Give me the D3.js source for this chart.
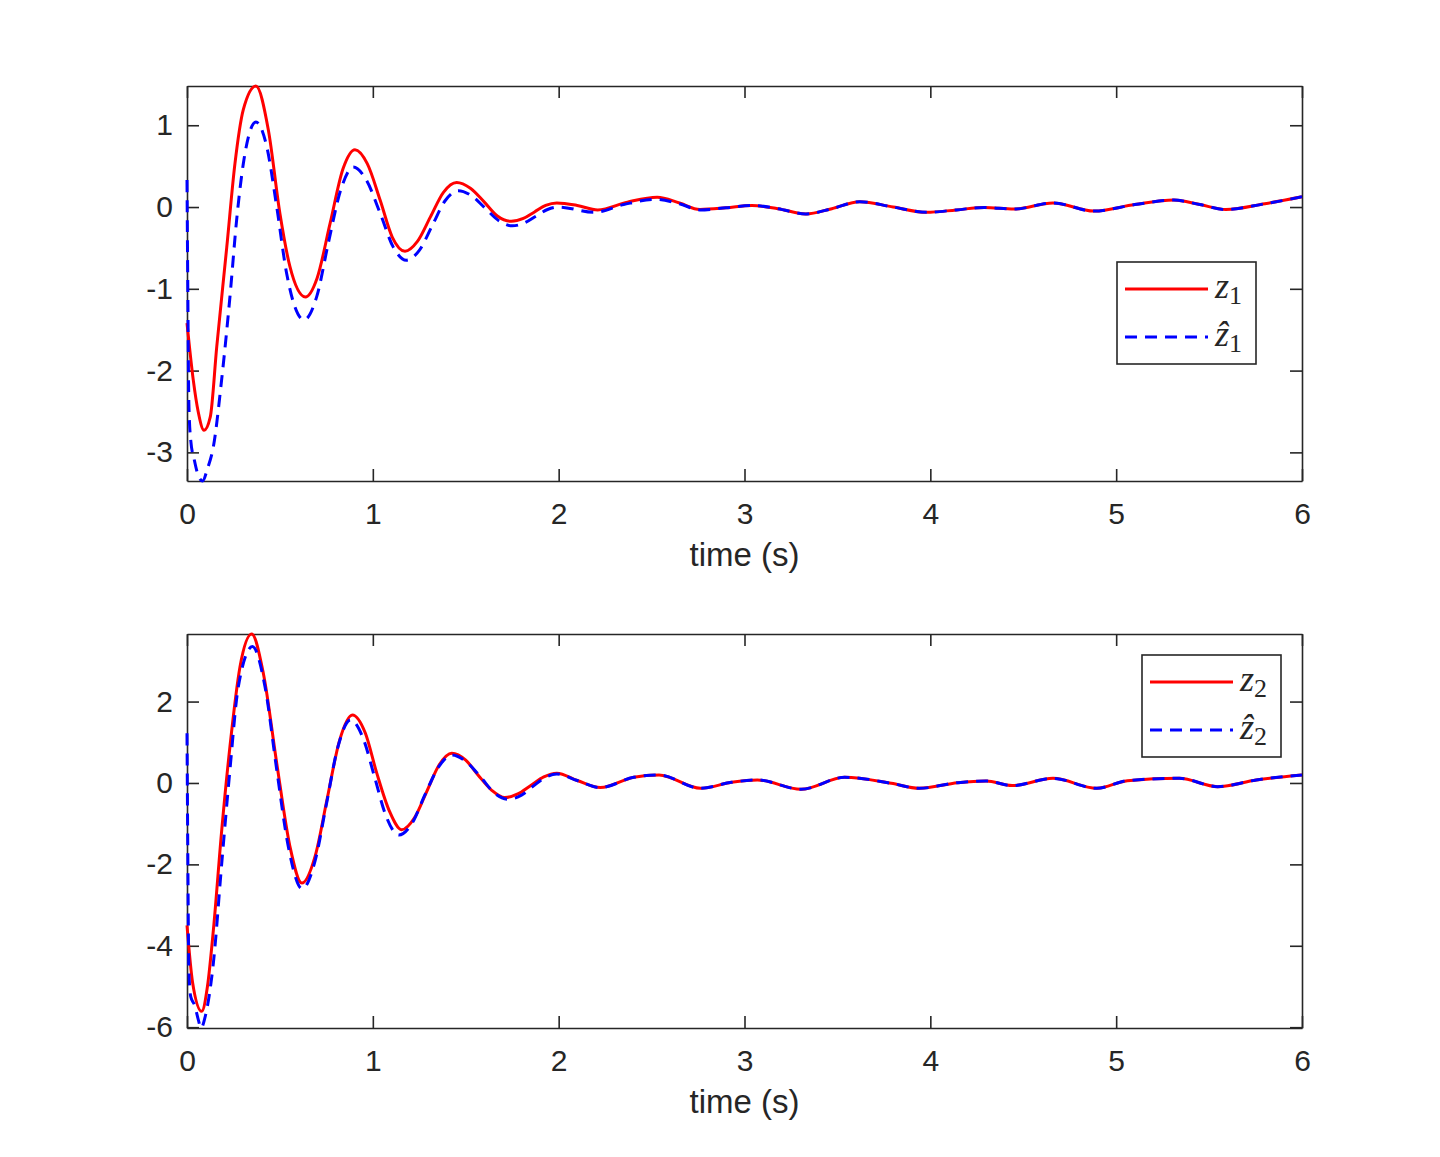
<!DOCTYPE html>
<html>
<head>
<meta charset="utf-8">
<script src="https://cdn.jsdelivr.net/npm/d3@7/dist/d3.min.js"></script>
<style>
body { margin: 0; background: #fff; }
svg text { font-family: "Liberation Sans", Arial, sans-serif; fill: #262626; }
</style>
</head>
<body>
<div id="chart"></div>
<script>
// values (time in s)
const t1 = [0, 0.034, 0.06, 0.092, 0.125, 0.16, 0.214, 0.258, 0.303, 0.371, 0.438, 0.5, 0.554, 0.637,
    0.70, 0.77, 0.84, 0.904, 0.97, 1.04, 1.105, 1.173, 1.24, 1.31, 1.38, 1.451, 1.525, 1.60, 1.67, 1.745,
    1.81, 1.87, 1.93, 1.99, 2.1, 2.21, 2.37, 2.53, 2.65, 2.76, 2.9, 3.04, 3.18, 3.33, 3.47, 3.62, 3.8, 3.98,
    4.14, 4.29, 4.45, 4.66, 4.88, 5.1, 5.31, 5.45, 5.59, 5.8, 6.0];
const z1 = [-1.42, -2.12, -2.5, -2.73, -2.57, -1.71, -0.49, 0.53, 1.19, 1.48, 0.94, -0.08, -0.73, -1.10,
    -0.87, -0.2, 0.47, 0.70, 0.53, 0.08, -0.37, -0.54, -0.42, -0.12, 0.18, 0.30, 0.23, 0.06, -0.11, -0.175,
    -0.14, -0.06, 0.02, 0.05, 0.02, -0.035, 0.06, 0.12, 0.05, -0.03, -0.01, 0.02, -0.02, -0.085, -0.02, 0.065, 0.0, -0.065,
    -0.035, -0.005, -0.025, 0.05, -0.05, 0.03, 0.085, 0.03, -0.03, 0.04, 0.125];

const t1hat = [0, 0.004, 0.01, 0.02, 0.04, 0.06, 0.084, 0.11, 0.142, 0.186, 0.231, 0.267, 0.303, 0.371, 0.429,
    0.483, 0.536, 0.63, 0.70, 0.76, 0.83, 0.895, 0.965, 1.04, 1.11, 1.18, 1.25, 1.32, 1.39, 1.46, 1.53, 1.605,
    1.68, 1.75, 1.81, 1.875, 1.94, 2.0, 2.19, 2.35, 2.52, 2.65, 2.76, 2.9, 3.04, 3.18, 3.33, 3.47, 3.62, 3.8, 3.98,
    4.14, 4.29, 4.45, 4.66, 4.88, 5.1, 5.31, 5.45, 5.59, 5.8, 6.0];
const z1hat = [0.33, -0.9, -2.4, -2.85, -3.1, -3.28, -3.35, -3.2, -2.93, -2.12, -1.10, -0.16, 0.53, 1.04, 0.74,
    0.0, -0.81, -1.38, -1.08, -0.445, 0.23, 0.49, 0.33, -0.08, -0.49, -0.65, -0.53, -0.225, 0.08, 0.20, 0.14, -0.015,
    -0.17, -0.23, -0.2, -0.115, -0.03, 0.0, -0.065, 0.03, 0.095, 0.04, -0.035, -0.01, 0.02, -0.02, -0.085, -0.02, 0.065, 0.0, -0.065,
    -0.035, -0.005, -0.025, 0.05, -0.05, 0.03, 0.085, 0.03, -0.03, 0.04, 0.125];

const t2 = [0, 0.03, 0.079, 0.11, 0.142, 0.187, 0.231, 0.285, 0.348, 0.411, 0.483, 0.554, 0.618,
    0.69, 0.754, 0.82, 0.89, 0.96, 1.02, 1.09, 1.155, 1.225, 1.29, 1.355, 1.425, 1.5, 1.567, 1.64, 1.71,
    1.78, 1.85, 1.92, 1.99, 2.1, 2.224, 2.404, 2.54, 2.764, 2.93, 3.069, 3.304, 3.539, 3.79, 3.94, 4.148,
    4.3, 4.44, 4.66, 4.896, 5.06, 5.34, 5.546, 5.754, 6.0];
const z2 = [-3.5, -4.9, -5.61, -5.0, -3.61, -1.15, 0.89, 2.85, 3.66, 2.69, 0.48, -1.56, -2.46,
    -1.79, -0.395, 1.03, 1.67, 1.22, 0.26, -0.7, -1.15, -0.85, -0.21, 0.43, 0.73, 0.56, 0.19, -0.18, -0.36,
    -0.27, -0.06, 0.15, 0.24, 0.06, -0.114, 0.14, 0.196, -0.131, 0.016, 0.074, -0.155, 0.14, -0.008, -0.131, 0.008,
    0.049, -0.065, 0.114, -0.131, 0.057, 0.114, -0.09, 0.074, 0.196];

const t2hat = [0, 0.004, 0.01, 0.02, 0.04, 0.06, 0.075, 0.1, 0.142, 0.187, 0.231, 0.276, 0.352, 0.42, 0.483,
    0.545, 0.62, 0.69, 0.75, 0.81, 0.88, 0.95, 1.01, 1.07, 1.14, 1.21, 1.28, 1.355, 1.425, 1.5, 1.58, 1.655,
    1.73, 1.8, 1.86, 1.925, 1.99, 2.1, 2.224, 2.404, 2.54, 2.764, 2.93, 3.069, 3.304, 3.539, 3.79, 3.94, 4.148,
    4.3, 4.44, 4.66, 4.896, 5.06, 5.34, 5.546, 5.754, 6.0];
const z2hat = [1.22, -1.5, -4.6, -5.25, -5.45, -5.8, -6.02, -5.7, -4.42, -1.97, 0.32, 2.36, 3.35, 2.36, 0.32,
    -1.56, -2.6, -1.9, -0.525, 0.85, 1.55, 1.07, 0.135, -0.8, -1.28, -1.0, -0.295, 0.4, 0.69, 0.53, 0.145, -0.25,
    -0.40, -0.3, -0.09, 0.13, 0.22, 0.06, -0.114, 0.14, 0.196, -0.131, 0.016, 0.074, -0.155, 0.14, -0.008, -0.131, 0.008,
    0.049, -0.065, 0.114, -0.131, 0.057, 0.114, -0.09, 0.074, 0.196];

const xTicks = [0, 1, 2, 3, 4, 5, 6];
const yTicks1 = [-3, -2, -1, 0, 1];
const yTicks2 = [-6, -4, -2, 0, 2];
const xLabel = "time (s)";

const W = 1440, H = 1157;
const AXIS = "#262626";

let svg = d3.select("#chart")
    .append("svg")
    .attr("width", W)
    .attr("height", H);

let panels = [
    {id: "p1", top: 86, bottom: 481, yDomain: [-3.35, 1.48], yTicks: yTicks1,
     t: t1, z: z1, th: t1hat, zh: z1hat, sub: "1",
     legend: {x: 1117, y: 262, w: 139, h: 102}},
    {id: "p2", top: 634, bottom: 1028, yDomain: [-6.02, 3.66], yTicks: yTicks2,
     t: t2, z: z2, th: t2hat, zh: z2hat, sub: "2",
     legend: {x: 1142, y: 655, w: 139, h: 102}}
];

panels.forEach(drawPanel);

function drawPanel(p) {
    let left = 187, right = 1302;
    let g = svg.append("g");

    let x = d3.scaleLinear().domain([0, 6]).range([left, right]);
    let y = d3.scaleLinear().domain(p.yDomain).range([p.bottom, p.top]);

    // axes (ticks inside, box on)
    g.append("g")
        .attr("transform", `translate(0, ${p.bottom})`)
        .call(d3.axisBottom(x).tickValues(xTicks).tickSizeInner(-12).tickSizeOuter(0).tickPadding(22)
            .tickFormat(function(d) { return String(d); }));
    g.append("g")
        .attr("transform", `translate(0, ${p.top})`)
        .call(d3.axisTop(x).tickValues(xTicks).tickSizeInner(-12).tickSizeOuter(0).tickFormat(""));
    g.append("g")
        .attr("transform", `translate(${left}, 0)`)
        .call(d3.axisLeft(y).tickValues(p.yTicks).tickSizeInner(-12).tickSizeOuter(0).tickPadding(14)
            .tickFormat(function(d) { return String(d); }));
    g.append("g")
        .attr("transform", `translate(${right}, 0)`)
        .call(d3.axisRight(y).tickValues(p.yTicks).tickSizeInner(-12).tickSizeOuter(0).tickFormat(""));

    g.selectAll(".domain, .tick line")
        .attr("stroke", AXIS)
        .attr("stroke-width", 1.6);
    g.selectAll(".tick text")
        .attr("fill", AXIS)
        .style("font-size", "30px")
        .style("font-family", "'Liberation Sans', Arial, sans-serif");

    g.append("text")
        .attr("x", (left + right) / 2)
        .attr("y", p.bottom + 85)
        .style("text-anchor", "middle")
        .style("font-size", "33px")
        .text(xLabel);

    // data lines
    svg.append("clipPath").attr("id", "clip-" + p.id)
        .append("rect")
        .attr("x", left - 2).attr("y", p.top - 2)
        .attr("width", right - left + 4).attr("height", p.bottom - p.top + 4);

    let line = d3.line()
        .x(function(d) { return x(d[0]); })
        .y(function(d) { return y(d[1]); })
        .curve(d3.curveMonotoneX);

    let lines = g.append("g").attr("clip-path", `url(#clip-${p.id})`);
    lines.append("path")
        .attr("d", line(d3.zip(p.t, p.z)))
        .attr("fill", "none")
        .attr("stroke", "#ff0000")
        .attr("stroke-width", 3);
    lines.append("path")
        .attr("d", line(d3.zip(p.th, p.zh)))
        .attr("fill", "none")
        .attr("stroke", "#0000ff")
        .attr("stroke-width", 3)
        .attr("stroke-dasharray", "12,8");

    // legend
    let L = p.legend;
    let lg = g.append("g").attr("transform", `translate(${L.x}, ${L.y})`);
    lg.append("rect")
        .attr("width", L.w).attr("height", L.h)
        .attr("fill", "#fff")
        .attr("stroke", AXIS)
        .attr("stroke-width", 1.6);
    lg.append("line")
        .attr("x1", 8).attr("x2", 91).attr("y1", 27).attr("y2", 27)
        .attr("stroke", "#ff0000").attr("stroke-width", 3);
    lg.append("line")
        .attr("x1", 8).attr("x2", 91).attr("y1", 75).attr("y2", 75)
        .attr("stroke", "#0000ff").attr("stroke-width", 3)
        .attr("stroke-dasharray", "12,8");

    let serif = "'Liberation Serif', 'DejaVu Serif', serif";
    // z and z-hat (precomposed glyph U+1E91)
    ["z", "\u1E91"].forEach(function(sym, i) {
        let tx = lg.append("text")
            .attr("x", 98).attr("y", 36 + i * 48)
            .style("font-family", serif)
            .style("font-size", "36px");
        tx.append("tspan").style("font-style", "italic").text(sym);
        tx.append("tspan").attr("dy", 6).style("font-size", "26px").text(p.sub);
    });
}
</script>
</body>
</html>
